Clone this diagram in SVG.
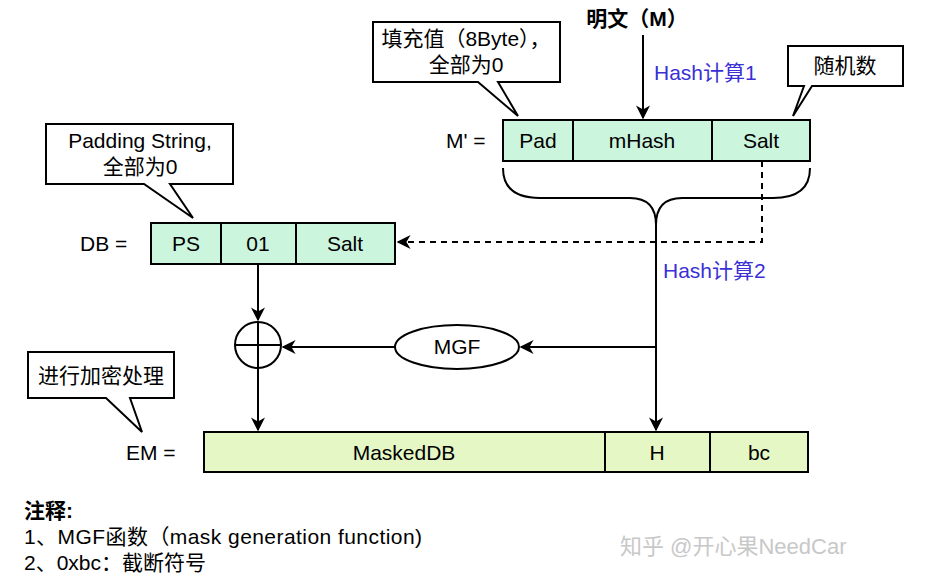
<svg xmlns="http://www.w3.org/2000/svg" width="926" height="585" viewBox="0 0 926 585">
<defs>
<style>
text{font-family:"Liberation Sans","Noto Sans CJK SC",sans-serif;font-size:21px;fill:#000}
.c{text-anchor:middle}
.b{stroke:#000;stroke-width:2}
.m{fill:#ccf5dd}
.g{fill:#e4f7c4}
.call{fill:#fff;stroke:#000;stroke-width:2}
.ln{fill:none;stroke:#000;stroke-width:2}
.blue{fill:#3b2fd6}
</style>
<marker id="ab" viewBox="0 0 10 10" refX="9" refY="5" markerWidth="14" markerHeight="14" orient="auto" markerUnits="userSpaceOnUse"><path d="M0,0 L10,5 L0,10 L3,5z" fill="#000"/></marker>
</defs>
<rect width="926" height="585" fill="#fff"/>
<g id="connectors">
<line class="ln" x1="643" y1="35" x2="643" y2="118" marker-end="url(#ab)"/>
<path class="ln" d="M503,168 Q503,198 540,198 L630,198 Q656,198 656,225 Q656,198 682,198 L773,198 Q810,198 810,168"/>
<path class="ln" d="M656,225 L656,430" marker-end="url(#ab)"/>
<path class="ln" d="M656,347 L521,347" marker-end="url(#ab)"/>
<path class="ln" d="M395,347 L283,347" marker-end="url(#ab)"/>
<path class="ln" stroke-dasharray="6,5" d="M762,161 L762,242 L398,242" marker-end="url(#ab)"/>
<path class="ln" d="M258,264 L258,320" marker-end="url(#ab)"/>
<path class="ln" d="M258,368 L258,430" marker-end="url(#ab)"/>
</g>
<g id="title"><text class="c" x="637" y="26" font-weight="bold">明文（M）</text></g>
<text class="blue" x="654" y="80">Hash计算1</text>
<text class="blue" x="663" y="278">Hash计算2</text>
<g id="mprime">
<text x="446" y="148">M' =</text>
<rect class="b m" x="503" y="120" width="307" height="41"/>
<line class="b" x1="573" y1="120" x2="573" y2="161"/>
<line class="b" x1="712" y1="120" x2="712" y2="161"/>
<text class="c" x="538" y="148">Pad</text>
<text class="c" x="642" y="148">mHash</text>
<text class="c" x="761" y="148">Salt</text>
</g>
<g id="db">
<text x="80" y="251">DB =</text>
<rect class="b m" x="151" y="223" width="244" height="41"/>
<line class="b" x1="221" y1="223" x2="221" y2="264"/>
<line class="b" x1="296" y1="223" x2="296" y2="264"/>
<text class="c" x="186" y="251">PS</text>
<text class="c" x="258" y="251">01</text>
<text class="c" x="345" y="251">Salt</text>
</g>
<g id="xor">
<circle class="ln" cx="258" cy="345" r="23"/>
<line class="b" x1="235" y1="345" x2="281" y2="345"/>
<line class="b" x1="258" y1="322" x2="258" y2="368"/>
</g>
<g id="mgf">
<ellipse class="b" fill="#fff" cx="457" cy="347" rx="62" ry="22"/>
<text class="c" x="457" y="354">MGF</text>
</g>
<g id="em">
<text x="126" y="460">EM =</text>
<rect class="b g" x="204" y="432" width="604" height="40"/>
<line class="b" x1="605" y1="432" x2="605" y2="472"/>
<line class="b" x1="710" y1="432" x2="710" y2="472"/>
<text class="c" x="404" y="460">MaskedDB</text>
<text class="c" x="657" y="460">H</text>
<text class="c" x="759" y="460">bc</text>
</g>
<g id="callout1">
<path class="call" d="M373,22 H560 V82 H498 L518,116 L478,82 H373 Z"/>
<text class="c" x="466" y="46">填充值（8Byte），</text>
<text class="c" x="466" y="72">全部为0</text>
</g>
<g id="callout2">
<path class="call" d="M788,46 H903 V86 H812 L793,116 L804,86 H788 Z"/>
<text class="c" x="845" y="73">随机数</text>
</g>
<g id="callout3">
<path class="call" d="M46,124 H233 V184 H170 L193,218 L144,184 H46 Z"/>
<text class="c" x="140" y="148">Padding String,</text>
<text class="c" x="140" y="174">全部为0</text>
</g>
<g id="callout4">
<path class="call" d="M28,352 H174 V398 H130 L142,432 L106,398 H28 Z"/>
<text class="c" x="101" y="383">进行加密处理</text>
</g>
<g id="notes">
<text x="24" y="518" font-weight="bold">注释:</text>
<text x="24" y="544" textLength="398">1、MGF函数（mask generation function)</text>
<text x="24" y="570">2、0xbc：截断符号</text>
</g>
<text x="620" y="554" style="fill:#c8c8c8;font-size:22px">知乎 @开心果NeedCar</text>
</svg>
